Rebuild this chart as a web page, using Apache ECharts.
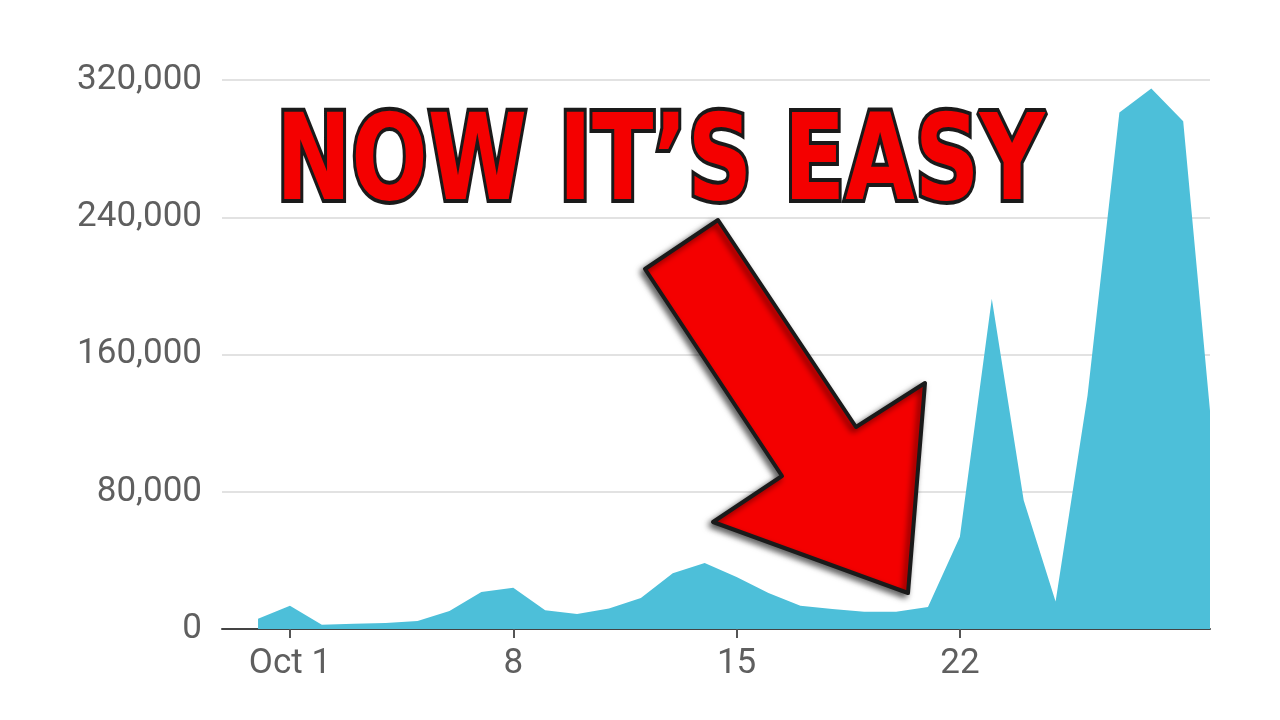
<!DOCTYPE html>
<html>
<head>
    <meta charset="utf-8">
    <title>Now it's easy</title>
    <style>
        html, body { margin: 0; padding: 0; background: #fff; }
        #main { width: 1280px; height: 720px; }
    </style>
</head>
<body>
<div id="main"></div>
<script src="https://cdn.jsdelivr.net/npm/echarts@6/dist/echarts.min.js"></script>
<script type="text/javascript">
    // day number: 0 = Sep 30, 1 = Oct 1 ... 30 = Oct 30
    var days = [0, 1, 2, 3, 4, 5, 6, 7, 8, 9, 10, 11, 12, 13, 14, 15,
                16, 17, 18, 19, 20, 21, 22, 23, 24, 25, 26, 27, 28, 29, 30];
    var views = [6000, 13500, 2500, 3000, 3500, 4700, 10500, 21500, 24000, 11000, 8700, 12000,
                 18000, 32500, 38500, 30300, 21000, 13500, 11700, 10000, 10000, 12800,
                 53800, 192500, 75000, 16000, 136000, 301000, 315000, 296000, 95000];
    var tickDays = [1, 8, 15, 22];
    var tickLabels = ['Oct 1', '8', '15', '22'];

    var chart = echarts.init(document.getElementById('main'));

    var points = days.map(function (d, i) { return [d, views[i]]; });

    chart.setOption({
        backgroundColor: '#fff',
        animation: false,
        grid: { left: 222, right: 70, top: 80, bottom: 91 },
        xAxis: {
            type: 'value',
            min: -1.13,
            max: 29.84,
            splitLine: { show: false },
            axisLine: { show: true, lineStyle: { color: '#444', width: 2 } },
            axisTick: {
                show: true,
                customValues: tickDays,
                length: 9,
                lineStyle: { color: '#555', width: 2 }
            },
            axisLabel: {
                customValues: tickDays,
                margin: 18,
                color: '#5f5f5f',
                fontFamily: 'Roboto',
                fontSize: 35,
                formatter: function (v) {
                    var k = tickDays.indexOf(Math.round(v));
                    return k >= 0 ? tickLabels[k] : '';
                }
            }
        },
        yAxis: {
            type: 'value',
            min: 0,
            max: 320000,
            interval: 80000,
            axisLine: { show: false },
            axisTick: { show: false },
            splitLine: { lineStyle: { color: '#e2e2e2', width: 2 } },
            axisLabel: {
                margin: 20,
                color: '#5f5f5f',
                fontFamily: 'Roboto',
                fontSize: 35,
                formatter: function (v) { return v.toLocaleString('en-US'); }
            }
        },
        series: [{
            type: 'line',
            data: points,
            symbol: 'none',
            clip: true,
            lineStyle: { width: 0 },
            areaStyle: { color: '#4dbfd9', opacity: 1 },
            z: 2
        }],
        graphic: [
            {
                type: 'polygon',
                z: 100,
                shape: {
                    points: [[718, 220], [856, 427], [925, 383], [908, 593],
                             [713, 522], [782, 476], [645, 269]]
                },
                style: {
                    fill: '#f40000',
                    stroke: '#1a1a1a',
                    lineWidth: 4,
                    lineJoin: 'round',
                    shadowBlur: 6,
                    shadowColor: 'rgba(0,0,0,0.6)',
                    shadowOffsetX: -3,
                    shadowOffsetY: 3
                }
            },
            {
                type: 'text',
                z: 100,
                x: 276,
                y: 108,
                scaleX: 0.75,
                style: {
                    text: 'NOW IT\u2019S EASY',
                    font: 'bold 120px "DejaVu Sans"',
                    fill: '#f40000',
                    stroke: '#1a1a1a',
                    lineWidth: 8,
                    strokeFirst: true,
                    textAlign: 'left',
                    textVerticalAlign: 'top',
                    shadowBlur: 6,
                    shadowColor: 'rgba(0,0,0,0.5)',
                    shadowOffsetX: -2,
                    shadowOffsetY: 3
                }
            }
        ]
    });
</script>
</body>
</html>
